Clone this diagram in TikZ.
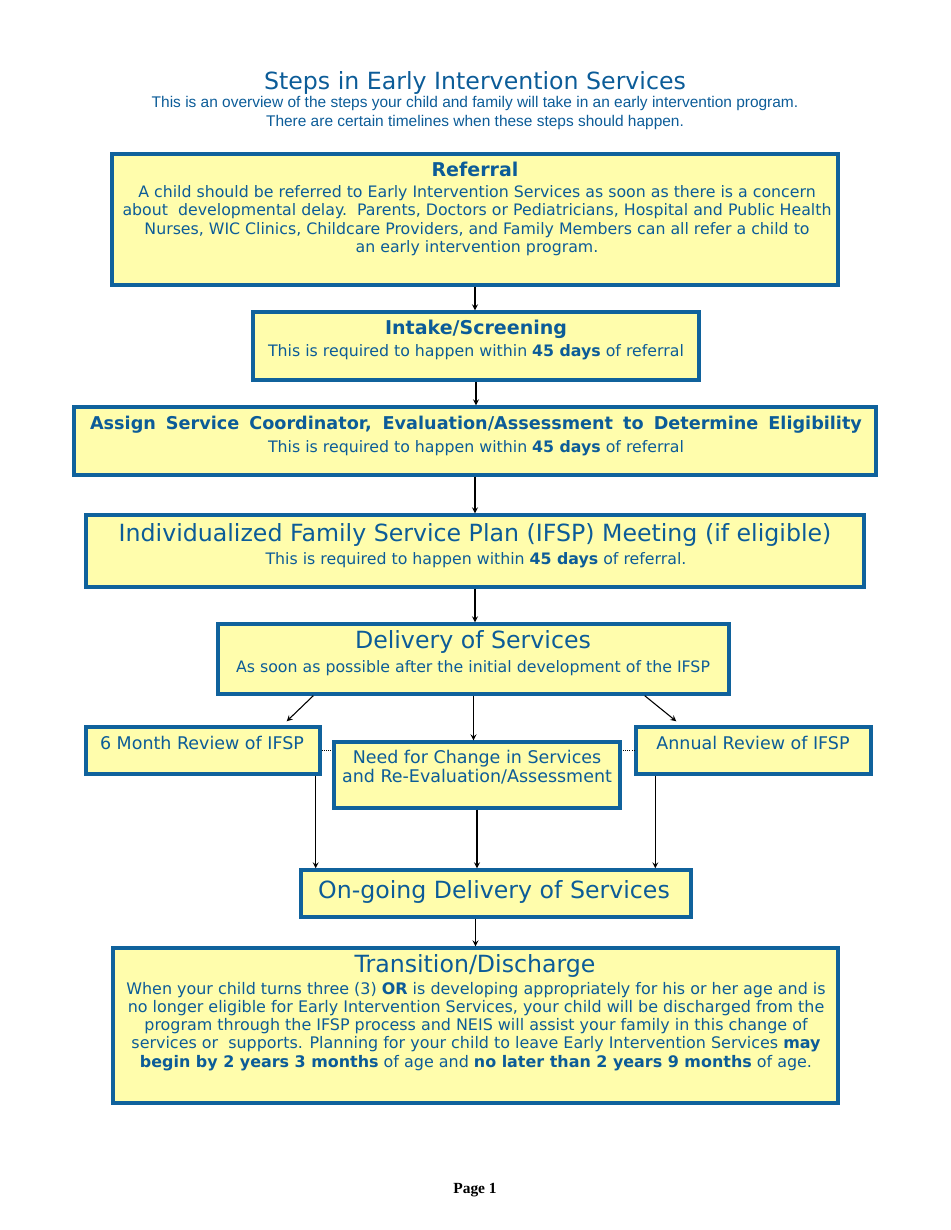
\documentclass[tikz,border=0pt]{standalone}
\usepackage{fontspec}
\setmainfont{DejaVu Sans}
\newfontfamily\subfont{Liberation Sans}
\newfontfamily\pagefont{Liberation Serif}
\usetikzlibrary{arrows,calc,fit,positioning}
\definecolor{stepblue}{RGB}{12,92,152}
\definecolor{stepedge}{RGB}{16,98,156}
\definecolor{stepfill}{RGB}{255,253,172}
\newcommand\pxu{0.6465pt}

\begin{document}
\begin{tikzpicture}[>=stealth, x=\pxu, y=-\pxu]
    \tikzstyle{stepbox}=[rectangle,draw=stepedge,fill=stepfill,line width=2.2pt,inner sep=0pt]
    \tikzstyle{steptext}=[text=stepblue,align=center,inner sep=0pt,anchor=base,font=\fontsize{10.2}{12}\selectfont]
    \tikzstyle{stephead}=[steptext,font=\fontsize{12.3}{13}\selectfont\bfseries]
    \tikzstyle{stepbig}=[steptext,font=\fontsize{15.3}{17}\selectfont]
    \tikzstyle{stepmid}=[steptext,font=\fontsize{11.3}{12.2}\selectfont]
    \tikzstyle{flow}=[->,line width=0.7pt,black]

    \useasboundingbox (0,0) rectangle (950,1230);

    \node[stepbig] (title) at (475,90) {Steps in Early Intervention Services};
    \node[steptext,font=\subfont\fontsize{10}{10}\selectfont] (subone) at (475,108)
      {This is an overview of the steps your child and family will take in an early intervention program.};
    \node[steptext,font=\subfont\fontsize{10}{10}\selectfont] (subtwo) at (475,127)
      {There are certain timelines when these steps should happen.};

    \node[stepbox, fit={(112,154) (838,285)}] (referral) {};
    \node[stepbox, fit={(253,312) (699,380)}] (intake) {};
    \node[stepbox, fit={(74,407) (876,475)}] (assign) {};
    \node[stepbox, fit={(86,515) (864,587)}] (ifsp) {};
    \node[stepbox, fit={(218,624) (729,694)}] (delivery) {};
    \node[stepbox, fit={(86,727) (320,774)}] (sixmonth) {};
    \node[stepbox, fit={(334,742) (620,808)}] (need) {};
    \node[stepbox, fit={(636,727) (871,774)}] (annual) {};
    \node[stepbox, fit={(301,870) (691,917)}] (ongoing) {};
    \node[stepbox, fit={(113,948) (838,1103)}] (transition) {};

    \node[stephead] (referralhead) at (475,177) {Referral};
    \node[steptext] (referralbody) at (477,253) {A child should be referred to Early Intervention Services as soon as there is a concern\\
      about\ \ developmental delay.\ \ Parents, Doctors or Pediatricians, Hospital and Public Health\\
      Nurses, WIC Clinics, Childcare Providers, and Family Members can all refer a child to\\
      an early intervention program.};

    \node[stephead] (intakehead) at (476,335) {Intake/Screening};
    \node[steptext] (intakebody) at (476,357) {This is required to happen within \textbf{45 days} of referral};

    \node[stephead,font=\fontsize{11.4}{13}\selectfont\bfseries] (assignhead) at (476,429)
      {\makebox[499pt][s]{Assign Service Coordinator, Evaluation/Assessment to Determine Eligibility}};
    \node[steptext] (assignbody) at (476,452) {This is required to happen within \textbf{45 days} of referral};

    \node[stepbig] (ifsphead) at (475,541) {Individualized Family Service Plan (IFSP) Meeting (if eligible)};
    \node[steptext] (ifspbody) at (476,564) {This is required to happen within \textbf{45 days} of referral.};

    \node[stepbig] (deliveryhead) at (473,648) {Delivery of Services};
    \node[steptext] (deliverybody) at (473,672) {As soon as possible after the initial development of the IFSP};

    \node[stepmid] (sixmonthtxt) at (202,749) {6 Month Review of IFSP};
    \node[stepmid] (needtxt) at (477,782) {Need for Change in Services\\and Re-Evaluation/Assessment};
    \node[stepmid] (annualtxt) at (753,749) {Annual Review of IFSP};

    \node[stepbig] (ongoingtxt) at (494,898) {On-going Delivery of Services};

    \node[stepbig] (transitionhead) at (475,972) {Transition/Discharge};
    \node[steptext,font=\fontsize{10.3}{11.8}\selectfont] (transitionbody) at (476,1067) {When your child turns three (3) \textbf{OR} is developing appropriately for his or her age and is\\
      no longer eligible for Early Intervention Services, your child will be discharged from the\\
      program through the IFSP process and NEIS will assist your family in this change of\\
      services or\ \ supports. Planning for your child to leave Early Intervention Services \textbf{may}\\
      \textbf{begin by 2 years 3 months} of age and \textbf{no later than 2 years 9 months} of age.};

    \node[font=\pagefont\bfseries\fontsize{10}{12}\selectfont,anchor=base] (pagenum) at (475,1193) {Page 1};

    \draw[flow] (referral.south) -- (referral.south |- intake.north);
    \draw[flow] (intake.south) -- (intake.south |- assign.north);
    \draw[flow] (assign.south) -- (assign.south |- ifsp.north);
    \draw[flow] (ifsp.south) -- (ifsp.south |- delivery.north);
    \draw[flow] ([xshift=97*\pxu]delivery.south west) -- ([xshift=-35*\pxu,yshift=4*\pxu]sixmonth.north east);
    \draw[flow] (delivery.south) -- (delivery.south |- need.north);
    \draw[flow] ([xshift=-86*\pxu]delivery.south east) -- ([xshift=42*\pxu,yshift=4*\pxu]annual.north west);

    \draw[densely dotted,thin] (sixmonth.east) -- (sixmonth.east -| need.west);
    \draw[densely dotted,thin] (annual.west) -- (annual.west -| need.east);

    \coordinate (sixdown) at ([xshift=-6*\pxu]sixmonth.south east);
    \coordinate (annualdown) at ([xshift=21*\pxu]annual.south west);
    \draw[flow] (sixdown) -- (sixdown |- ongoing.north);
    \draw[flow] (need.south) -- (need.south |- ongoing.north);
    \draw[flow] (annualdown) -- (annualdown |- ongoing.north);
    \draw[flow] (transition.north |- ongoing.south) -- (transition.north);
\end{tikzpicture}
\end{document}
